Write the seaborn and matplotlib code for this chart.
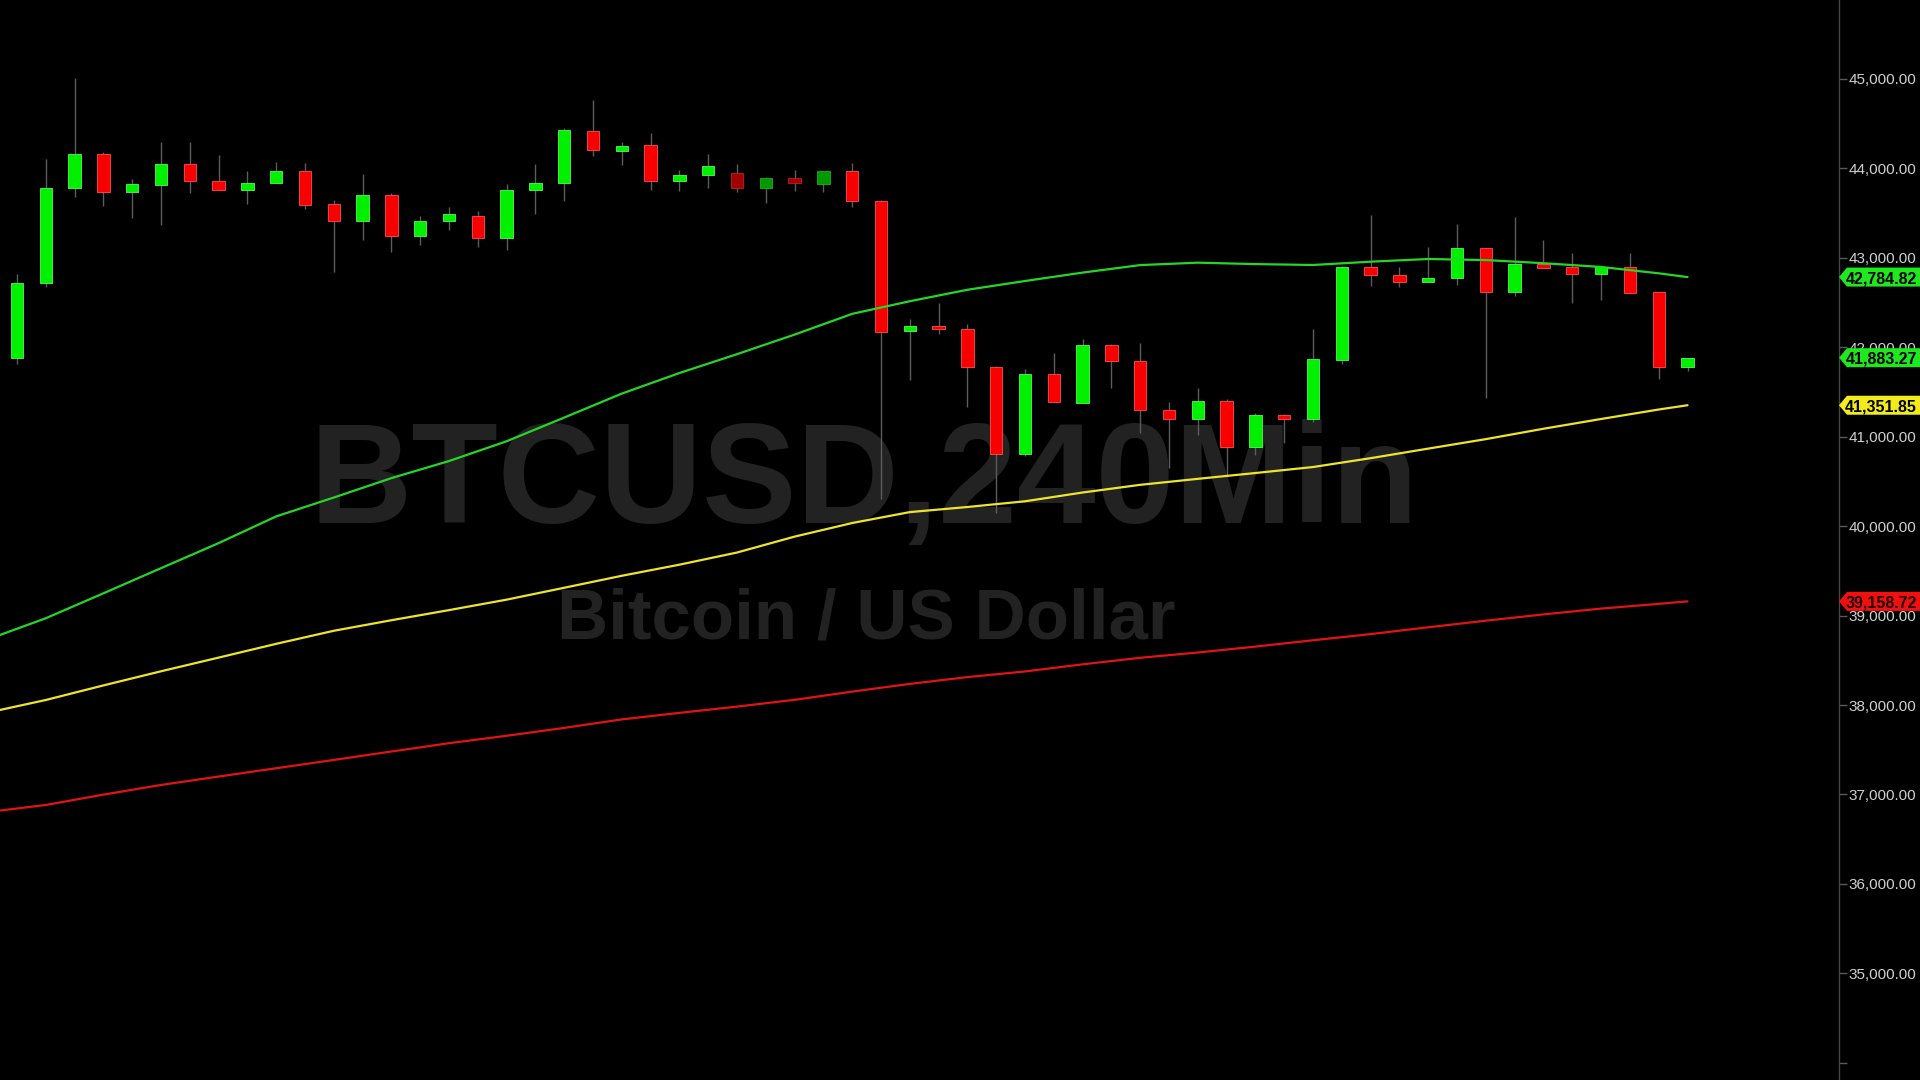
import numpy as np
import pandas as pd
import matplotlib
matplotlib.use("Agg")
import matplotlib.pyplot as plt
from matplotlib.patches import Polygon
import seaborn as sns

# ---------------- data ----------------
opens = [41878, 42723, 43778, 44157, 43736, 43818, 44046, 43856, 43759, 43833,
         43974, 43602, 43416, 43706, 43248, 43412, 43468, 43219, 43759, 43837,
         44418, 44198, 44258, 43856, 43930, 43952, 43781, 43889, 43829, 43968,
         43639, 42183, 42239, 42205, 41778, 40806, 41699, 41382, 42030, 41845,
         41300, 41200, 41398, 40890, 41245, 41197, 41859, 42895, 42806, 42727,
         42779, 43111, 42622, 42932, 42895, 42817, 42895, 42619, 41778]
highs = [42820, 44105, 45007, 44180, 43881, 44298, 44298, 44150, 43968, 44068,
         44057, 43647, 43937, 43720, 43468, 43569, 43527, 43822, 44049, 44448,
         44764, 44298, 44392, 43982, 44164, 44049, 43907, 43982, 43971, 44057,
         43650, 42314, 42493, 42261, 41790, 41755, 41941, 42090, 42040, 42052,
         41390, 41543, 41420, 41264, 41250, 42202, 42909, 43479, 42895, 43125,
         43375, 43115, 43454, 43200, 43058, 42900, 43051, 42620, 41883.27]
lows = [41814, 42678, 43677, 43580, 43449, 43368, 43728, 43759, 43602, 43833,
        43550, 42846, 43200, 43069, 43141, 43315, 43118, 43088, 43487, 43639,
        44142, 44038, 43759, 43751, 43778, 43740, 43610, 43751, 43740, 43572,
        40303, 41636, 42150, 41337, 40146, 40779, 41387, 41382, 41543, 41047,
        40645, 41018, 40555, 40794, 40928, 41159, 41811, 42686, 42678, 42727,
        42697, 41431, 42578, 42887, 42499, 42530, 42610, 41644, 41740]
closes = [42723, 43784, 44164, 43736, 43826, 44046, 43856, 43759, 43833, 43974,
          43594, 43416, 43706, 43248, 43412, 43487, 43219, 43762, 43840, 44426,
          44202, 44254, 43856, 43923, 44023, 43781, 43889, 43833, 43968, 43639,
          42169, 42242, 42209, 41781, 40806, 41699, 41387, 42030, 41845, 41300,
          41203, 41398, 40884, 41245, 41197, 41867, 42895, 42812, 42734, 42779,
          43111, 42622, 42935, 42887, 42817, 42895, 42611, 41778, 41883.27]
# bars drawn in the muted shade
dim_bars = [25, 26, 27, 28]

# moving averages, read at these bar positions
ma_index = [-1, 1, 3, 5, 7, 9, 11, 13, 15, 17, 19, 21, 23, 25, 27, 29, 31,
            33, 35, 37, 39, 41, 43, 45, 47, 49, 51, 53, 55, 57, 58]
ma_fast = [38735, 38970, 39249, 39530, 39810, 40109, 40320, 40537, 40728, 40949,
           41214, 41482, 41712, 41923, 42142, 42374, 42515, 42643, 42741, 42835,
           42919, 42946, 42930, 42920, 42957, 42987, 42975, 42940, 42898, 42827,
           42784.82]
ma_mid = [37916, 38056, 38219, 38377, 38530, 38684, 38830, 38948, 39061, 39178,
          39311, 39445, 39569, 39705, 39883, 40035, 40157, 40214, 40278, 40376,
          40462, 40529, 40594, 40661, 40760, 40867, 40973, 41089, 41198, 41304,
          41351.85]
ma_slow = [36804, 36882, 36998, 37106, 37200, 37293, 37386, 37480, 37573, 37656,
           37744, 37839, 37912, 37982, 38058, 38150, 38236, 38312, 38375, 38455,
           38528, 38587, 38653, 38724, 38793, 38869, 38943, 39013, 39078, 39131,
           39158.72]

tick_values = [34000, 35000, 36000, 37000, 38000, 39000, 40000, 41000,
               42000, 43000, 44000, 45000]
title_text = "BTCUSD,240Min"
subtitle_text = "Bitcoin / US Dollar"

# ---------------- style ----------------
sns.set_theme(style="dark")
plt.rcParams['font.family'] = ['Liberation Sans', 'DejaVu Sans']

W, H = 1920, 1080
AX_RIGHT_PX = 1839
fig = plt.figure(figsize=(W / 100, H / 100), dpi=100, facecolor='black')
ax = fig.add_axes([0, 0, AX_RIGHT_PX / W, 1])
ax.set_facecolor('black')
ax.grid(False)

YMIN, YMAX = 33807, 45883
XMIN, XMAX = -0.59, 63.26

GREEN_UP = '#00f000'
RED_DN = '#f80000'
DIM_UP = '#009a00'
DIM_DN = '#a00000'

# watermark
ax.text(864 / W, 1 - 523 / H, title_text, transform=fig.transFigure,
        ha='center', va='baseline', fontsize=102, fontweight='bold',
        color='#222222', zorder=0)
ax.text(866 / W, 1 - 638 / H, subtitle_text, transform=fig.transFigure,
        ha='center', va='baseline', fontsize=51, fontweight='bold',
        color='#222222', zorder=0)

# candles
idx = np.arange(len(opens))
o = np.array(opens, float)
c = np.array(closes, float)
hi = np.array(highs, float)
lo = np.array(lows, float)
up = c >= o
face = []
edge = []
for i in idx:
    if i in dim_bars:
        face.append(DIM_UP if up[i] else DIM_DN)
        edge.append('#20b020' if up[i] else '#c02020')
    else:
        face.append(GREEN_UP if up[i] else RED_DN)
        edge.append('#50ff50' if up[i] else '#ff5050')

ax.vlines(idx, lo, hi, color='#5c5c5c', lw=1.0, zorder=2)
ax.bar(idx, np.abs(c - o), bottom=np.minimum(o, c), width=0.43,
       color=face, edgecolor=edge, linewidth=0.6, zorder=3)

# moving averages
ma_df = pd.DataFrame({'idx': ma_index, 'fast': ma_fast, 'mid': ma_mid, 'slow': ma_slow})
sns.lineplot(data=ma_df, x='idx', y='slow', ax=ax, color='#e01414', lw=1.6, zorder=4)
sns.lineplot(data=ma_df, x='idx', y='mid', ax=ax, color='#eee52a', lw=1.6, zorder=4)
sns.lineplot(data=ma_df, x='idx', y='fast', ax=ax, color='#26d626', lw=1.6, zorder=4)

ax.set_xlim(XMIN, XMAX)
ax.set_ylim(YMIN, YMAX)
ax.set_xlabel('')
ax.set_ylabel('')
ax.set_xticks([])

# right price axis
ax.yaxis.tick_right()
ax.set_yticks(tick_values)
ax.set_yticklabels(['' if v == 34000 else f"{v:,.2f}" for v in tick_values])
ax.tick_params(axis='y', which='both', direction='out', length=5.5, width=1,
               color='#5a5a5a', labelcolor='#d0d0d0', labelsize=11, pad=1.2,
               left=False, right=True)
for side in ['left', 'top', 'bottom']:
    ax.spines[side].set_visible(False)
ax.spines['right'].set_color('#474747')
ax.spines['right'].set_linewidth(1.0)

# last-value price tags
tags = [(ma_fast[-1], '#1ee81e', 'black'),
        (closes[-1], '#1ee81e', 'black'),
        (ma_mid[-1], '#f2ec1c', 'black'),
        (ma_slow[-1], '#f01010', '#200000')]
x_tip = AX_RIGHT_PX / W
x_notch = 1847 / W
half_h = 9.5 / H
for val, bg, fg in tags:
    yc = (val - YMIN) / (YMAX - YMIN)
    poly = Polygon([(x_tip, yc), (x_notch, yc + half_h), (1.0, yc + half_h),
                    (1.0, yc - half_h), (x_notch, yc - half_h)],
                   closed=True, transform=fig.transFigure,
                   facecolor=bg, edgecolor='none', zorder=10)
    fig.add_artist(poly)
    fig.text(1917 / W, yc, f"{val:,.2f}", ha='right', va='center_baseline',
             fontsize=11.5, fontweight='bold', color=fg, zorder=11)

fig.savefig('out.png', dpi=100, facecolor='black')
